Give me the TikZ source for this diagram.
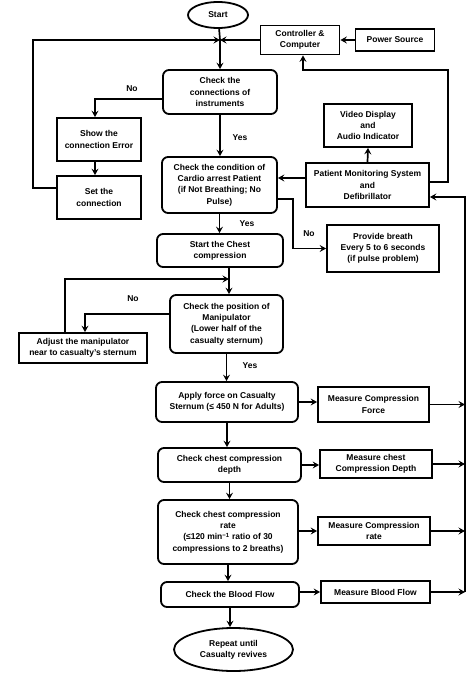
\documentclass[tikz,border=0pt]{standalone}
\usepackage{fontspec}
\setmainfont{Liberation Sans}
\usetikzlibrary{shapes.geometric,arrows.meta}

\begin{document}
\begin{tikzpicture}[x=1pt, y=-1pt, font=\fontsize{8.5}{11.3}\selectfont\bfseries]

% Set the overall frame of the chart
\useasboundingbox (0,0) rectangle (474,679);

% Define styles for boxes, ovals and connectors
\tikzstyle{sbox} = [draw, line width=1.8pt, align=center, inner sep=0pt]
\tikzstyle{rbox} = [sbox, rounded corners=6pt]
\tikzstyle{oval} = [draw, ellipse, line width=1.8pt, align=center, inner sep=0pt]
\tikzstyle{line} = [line width=1.7pt]
\tikzstyle{arrow} = [line, -{Stealth[length=6.5pt, width=7pt, inset=2.5pt]}]
\tikzstyle{lbl} = [inner sep=0pt]

% Main column
\node[oval, minimum width=60pt, minimum height=26pt] (start) at (218,15) {Start};
\node[rbox, minimum width=114pt, minimum height=44pt] (conn) at (220,92) {Check the\\connections of\\instruments};
\node[rbox, minimum width=115pt, minimum height=56pt] (cond) at (219.5,185) {Check the condition of\\Cardio arrest Patient\\(if Not Breathing; No\\Pulse)};
\node[rbox, minimum width=126pt, minimum height=33pt] (chest) at (220,250.5) {Start the Chest\\compression};
\node[rbox, minimum width=113pt, minimum height=58pt] (pos) at (226.5,324) {Check the position of\\Manipulator\\(Lower half of the\\casualty sternum)};
\node[rbox, minimum width=142pt, minimum height=40pt] (force) at (227,402) {Apply force on Casualty\\Sternum (≤ 450 N for Adults)};
\node[rbox, minimum width=143pt, minimum height=34pt] (depth) at (229.5,465) {Check chest compression\\depth};
\node[rbox, minimum width=140pt, minimum height=64pt] (rate) at (228,532) {Check chest compression\\rate\\(≤120 min\textsuperscript{−1} ratio of 30\\compressions to 2 breaths)};
\node[rbox, minimum width=138pt, minimum height=25pt] (blood) at (230,594.5) {Check the Blood Flow};
\node[oval, minimum width=119pt, minimum height=43pt] (repeat) at (233.5,649.5) {Repeat until\\Casualty revives};

% Left side
\node[sbox, minimum width=84pt, minimum height=43pt] (err) at (99,139.5) {Show the\\connection Error};
\node[sbox, minimum width=84pt, minimum height=43pt] (setc) at (99,197.5) {Set the\\connection};
\node[sbox, minimum width=128pt, minimum height=30pt] (adjust) at (83,348) {Adjust the manipulator\\near to casualty's sternum};

% Right side
\node[sbox, minimum width=79pt, minimum height=29pt] (ctrl) at (300,40) {Controller \&\\Computer};
\node[sbox, minimum width=79pt, minimum height=22pt] (power) at (395,40) {Power Source};
\node[sbox, minimum width=88pt, minimum height=43pt] (video) at (368,125.5) {Video Display\\and\\Audio Indicator};
\node[sbox, minimum width=123pt, minimum height=44pt] (monitor) at (367.5,185) {Patient Monitoring System\\and\\Defibrillator};
\node[sbox, minimum width=112pt, minimum height=47pt] (breath) at (383,248.5) {Provide breath\\Every 5 to 6 seconds\\(if pulse problem)};
\node[sbox, minimum width=111pt, minimum height=35pt] (mforce) at (373.5,404.5) {Measure Compression\\Force};
\node[sbox, minimum width=112pt, minimum height=28pt] (mdepth) at (376,464) {Measure chest\\Compression Depth};
\node[sbox, minimum width=112pt, minimum height=28pt] (mrate) at (374,531) {Measure Compression\\rate};
\node[sbox, minimum width=109pt, minimum height=22pt] (mblood) at (375.5,592) {Measure Blood Flow};

% Yes / No labels
\node[lbl] (no1) at (132,89) {No};
\node[lbl] (yes1) at (240,138) {Yes};
\node[lbl] (yes2) at (247,224) {Yes};
\node[lbl] (no2) at (309,234) {No};
\node[lbl] (no3) at (133,299) {No};
\node[lbl] (yes3) at (250,366) {Yes};

% Junctions and corners
\coordinate (j1) at (220,40);
\coordinate (lft) at (33,100);
\coordinate (rgt) at (448,70);
\coordinate (nb) at (293,230);
\coordinate (j2) at (229,279);
\coordinate (busb) at (465,592);

% Top part
\draw[line] (start) -- (j1);
\draw[arrow] (j1) -- (conn.north);
\draw[arrow] (power) -- (ctrl);
\draw[arrow] (ctrl.west) -- (j1);
\draw[arrow] ([yshift=-7pt]conn.west) -| ([xshift=-4pt]err.north);
\draw[arrow] ([xshift=-4pt]err.south) -- ([xshift=-4pt]setc.north);
\draw[arrow] ([yshift=9.5pt]setc.west) -| (lft) |- (j1);
\draw[arrow] (conn.south) -- (conn.south |- cond.north);

% Monitoring system
\draw[arrow] (monitor.north) -- (video.south);
\draw[arrow] ([yshift=7pt]monitor.west) -- ([yshift=7pt]monitor.west -| cond.east);
\draw[arrow] ([yshift=3pt]monitor.east) -| (rgt) -| ([xshift=3pt]ctrl.south);
\draw[arrow] (busb) |- ([yshift=-12pt]monitor.east);

% Patient condition
\draw[arrow] (cond.south) -- (cond.south |- chest.north);
\draw[arrow] ([yshift=-14pt]cond.east) -| (nb) |- (breath.west);

% Manipulator loop
\draw[line] (j2 |- chest.south) -- (j2);
\draw[arrow] (j2) -- (j2 |- pos.north);
\draw[arrow] ([yshift=10pt]pos.west) -| ([xshift=2pt]adjust.north);
\draw[arrow] ([xshift=-18pt]adjust.north) |- (j2);

% Compression steps
\draw[arrow] (pos.south) -- (pos.south |- force.north);
\draw[arrow] (force.south) -- (force.south |- depth.north);
\draw[arrow] (depth.south) -- (depth.south |- rate.north);
\draw[arrow] (rate.south) -- (rate.south |- blood.north);
\draw[arrow] (blood.south) -- (blood.south |- repeat.north);

% Measurements
\draw[arrow] (force.east) -- (force.east -| mforce.west);
\draw[arrow] (depth.east) -- (depth.east -| mdepth.west);
\draw[arrow] (mrate.west -| rate.east) -- (mrate.west);
\draw[arrow] (mblood.west -| blood.east) -- (mblood.west);
\draw[arrow] (mforce.east) -- (mforce.east -| busb);
\draw[arrow] (mdepth.east) -- (mdepth.east -| busb);
\draw[arrow] (mrate.east) -- (mrate.east -| busb);
\draw[arrow] (mblood.east) -- (busb);

\end{tikzpicture}
\end{document}
